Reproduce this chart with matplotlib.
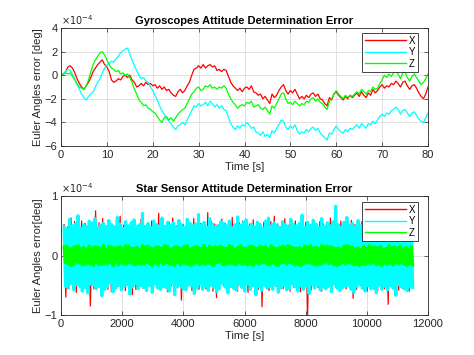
import numpy as np
import matplotlib
matplotlib.use("Agg")
import matplotlib.pyplot as plt

plt.rcParams['font.family'] = ['Liberation Sans', 'DejaVu Sans']

# ---------------- data (gyro, units of 1e-4 deg, sampled every 0.5 s) -------------
GYRO_T_END = 80
GYRO_STEP = 0.5
gyro_x = [0.0, 0.1, 0.3, 0.7, 0.8, 0.6, 0.2, -0.3, -0.7, -1.0,
          -1.2, -0.9, -0.6, -0.2, 0.3, 0.6, 0.9, 1.1, 1.3, 0.9,
          0.7, 0.3, -0.4, -0.6, -0.5, -0.3, -0.4, -0.1, 0.0, -0.2,
          0.0, -0.4, -0.6, -1.0, -0.9, -0.7, -0.9, -0.6, -0.8, -0.7,
          -0.9, -0.8, -1.1, -0.9, -1.2, -1.0, -1.3, -1.2, -1.5, -1.7,
          -1.8, -1.4, -1.2, -1.5, -1.3, -0.9, -0.6, 0.0, 0.5, 0.6,
          0.8, 0.6, 0.9, 0.6, 0.8, 0.9, 0.7, 0.8, 0.4, 0.5,
          0.3, 0.5, 0.4, -0.1, -0.6, -0.9, -1.1, -1.3, -1.1, -1.4,
          -1.1, -1.0, -1.2, -0.9, -1.4, -1.5, -1.7, -1.6, -2.0, -1.8,
          -2.1, -2.4, -1.6, -1.9, -1.7, -1.3, -1.0, -0.8, -1.3, -1.6,
          -1.3, -1.5, -1.2, -1.6, -2.0, -1.8, -2.0, -1.7, -1.9, -1.6,
          -1.5, -1.8, -1.6, -2.0, -2.1, -2.4, -2.6, -1.9, -2.1, -1.6,
          -1.4, -1.7, -1.9, -2.1, -1.8, -2.0, -1.7, -1.9, -1.7, -1.5,
          -1.8, -1.4, -1.7, -1.9, -1.5, -1.7, -1.2, -1.5, -1.3, -1.0,
          -0.8, -1.1, -0.9, -1.0, -0.7, -0.8, -0.5, -0.7, -1.0, -0.6,
          -0.5, -0.9, -1.2, -0.9, -0.8, -1.1, -1.5, -1.8, -2.0, -1.6,
          -1.0]
gyro_y = [0.0, 0.1, 0.3, 0.5, 0.4, 0.1, -0.3, -0.8, -1.2, -1.6,
          -1.9, -2.1, -1.8, -1.6, -1.4, -1.0, -0.6, -0.3, 0.2, 0.6,
          0.9, 1.0, 1.2, 1.1, 1.4, 1.6, 1.9, 2.1, 2.2, 2.3,
          1.8, 1.3, 0.8, 0.4, 0.0, -0.3, -0.2, -0.5, -0.6, -1.0,
          -1.3, -1.7, -2.1, -2.6, -3.0, -3.3, -3.6, -3.9, -4.1, -4.4,
          -4.6, -4.3, -4.2, -4.0, -4.2, -3.8, -3.4, -3.0, -2.6, -2.7,
          -2.4, -2.6, -2.5, -2.3, -2.6, -2.2, -2.4, -2.7, -2.5, -2.8,
          -2.6, -2.9, -3.0, -3.6, -4.1, -4.4, -4.6, -4.3, -4.5, -4.2,
          -4.3, -4.0, -4.2, -4.5, -4.4, -4.8, -4.9, -5.1, -4.8, -5.2,
          -5.0, -5.3, -4.7, -4.9, -4.5, -4.2, -3.8, -3.9, -4.4, -4.6,
          -4.3, -4.5, -4.2, -4.7, -5.0, -4.8, -4.9, -4.6, -4.8, -4.5,
          -4.4, -4.7, -4.5, -4.9, -5.1, -5.3, -5.5, -4.9, -5.0, -4.6,
          -4.3, -4.6, -4.8, -4.9, -4.6, -4.8, -4.5, -4.6, -4.4, -4.2,
          -4.5, -4.1, -4.3, -4.5, -4.1, -4.2, -3.9, -4.1, -3.8, -3.5,
          -3.3, -3.5, -3.2, -3.3, -3.0, -2.9, -2.7, -2.9, -3.3, -3.0,
          -2.9, -3.2, -3.5, -3.2, -3.1, -3.4, -3.7, -3.9, -4.0, -3.6,
          -3.2]
gyro_z = [0.0, 0.1, 0.2, 0.1, 0.2, -0.1, -0.4, -0.7, -1.0, -1.1,
          -1.2, -0.9, -0.4, 0.3, 0.9, 1.3, 1.6, 1.9, 2.0, 1.7,
          1.3, 0.9, 0.6, 0.5, 0.3, 0.4, 0.1, 0.2, 0.0, 0.1,
          -0.2, -0.6, -1.2, -1.6, -2.1, -2.3, -2.6, -2.5, -2.8, -2.9,
          -3.1, -3.2, -3.5, -3.8, -4.0, -3.6, -3.5, -3.8, -3.6, -3.9,
          -3.6, -3.3, -3.1, -2.9, -2.8, -2.4, -2.0, -1.6, -1.4, -1.1,
          -1.0, -1.3, -1.2, -0.9, -1.0, -0.8, -1.1, -1.0, -1.2, -1.0,
          -1.1, -0.9, -1.1, -1.6, -2.0, -2.3, -2.5, -2.8, -2.6, -2.5,
          -2.6, -2.3, -2.4, -2.2, -2.7, -2.6, -2.5, -2.8, -2.9, -2.7,
          -3.0, -3.3, -2.6, -2.8, -2.4, -2.0, -1.6, -1.5, -2.0, -2.4,
          -2.3, -2.5, -2.2, -2.4, -2.6, -2.4, -2.5, -2.2, -2.3, -2.0,
          -1.9, -2.2, -2.0, -2.3, -2.4, -2.7, -2.9, -2.2, -2.0, -1.6,
          -1.3, -1.6, -1.8, -2.0, -1.7, -1.9, -1.7, -1.8, -1.6, -1.4,
          -1.6, -1.2, -1.4, -1.6, -1.3, -1.4, -1.0, -1.2, -1.1, -0.7,
          -0.4, 0.0, -0.2, 0.1, -0.1, 0.2, 0.3, 0.1, -0.3, 0.2,
          0.3, -0.2, -0.5, -0.1, 0.1, -0.2, -0.5, -0.8, -0.6, -0.3,
          0.1]

# ---------------- data (star sensor, units of 1e-6 deg) -------------
STAR_T_START = 100
STAR_T_END = 11500
star_x = [52, -70, 48, -55, 63, -50, 57, -62, 50, -53,
          58, -49, 54, -60, 51, -85, 47, -56, 75, -52,
          55, -58, 62, -51, 49, -57, 53, -61, 50, -54,
          57, -52, 66, -55, 51, -59, 48, -53, 56, -66,
          53, -57, 50, -52, 61, -55, 49, -60, 54, -51,
          58, -56, 52, -50, 71, -58, 55, -53, 49, -61,
          56, -52, 63, -57, 50, -54, 59, -75, 52, -56,
          55, -51, 48, -59, 62, -53, 51, -57, 54, -52,
          50, -56, 72, -54, 57, -60, 53, -71, 49, -55,
          61, -52, 54, -58, 50, -53, 64, -57, 52, -60,
          55, -51, 58, -54, 49, -62, 53, -56, 60, -52,
          51, -57, 54, -86, 56, -53, 50, -59, 57, -55,
          66, -52, 53, -58, 49, -56, 62, -54, 51, -60,
          55, -53, 58, -57, 50, -61, 54, -52, 56, -102,
          52, -58, 60, -55, 51, -54, 57, -60, 53, -56,
          49, -53, 63, -57, 55, -52, 50, -59, 58, -54,
          54, -56, 51, -53, 59, -72, 52, -57, 55, -50,
          57, -55, 50, -60, 64, -52, 54, -57, 51, -59,
          53, -54, 58, -56, 50, -82, 55, -53, 60, -57,
          52, -58, 54, -55, 57, -51, 56, -60, 50, -54]
star_y = [48, -52, 45, -55, 61, -47, 50, -58, 53, -49,
          67, -51, 46, -60, 52, -54, 49, -63, 58, -48,
          55, -50, 62, -56, 47, -52, 51, -68, 54, -57,
          49, -53, 59, -46, 52, -61, 48, -55, 64, -50,
          53, -58, 46, -52, 57, -49, 50, -65, 55, -53,
          60, -47, 48, -56, 52, -51, 71, -54, 49, -59,
          54, -50, 47, -62, 58, -48, 52, -55, 50, -57,
          63, -52, 49, -54, 56, -60, 51, -47, 55, -66,
          48, -53, 59, -50, 52, -56, 47, -58, 61, -49,
          54, -51, 50, -64, 53, -55, 69, -48, 51, -57,
          56, -52, 48, -59, 62, -50, 53, -54, 49, -61,
          51, -56, 57, -47, 54, -53, 50, -63, 58, -52,
          47, -55, 52, -58, 65, -49, 51, -54, 55, -60,
          60, -48, 49, -57, 53, -51, 48, -66, 56, -53,
          52, -59, 46, -50, 58, -55, 63, -52, 50, -57,
          55, -49, 51, -62, 47, -54, 57, -50, 53, -58,
          49, -56, 61, -48, 52, -53, 50, -60, 54, -51,
          68, -57, 48, -52, 56, -64, 51, -49, 59, -55,
          53, -50, 47, -58, 62, -53, 49, -56, 55, -51,
          50, -61, 57, -48, 83, -55, 52, -59, 48, -54,
          56, -52, 64, -50, 51, -57, 54, -62, 49, -53,
          59, -48, 50, -55, 53, -60, 76, -51, 57, -56,
          47, -54, 52, -63, 55, -50, 49, -57, 60, -52,
          54, -58, 48, -51, 58, -55, 51, -67, 53, -49,
          62, -53, 50, -56, 47, -59, 55, -52, 51, -54]
star_z = [14, -12, 16, -15, 11, -17, 13, -14, 15, -11,
          17, -13, 12, -16, 14, -15, 11, -13, 16, -14,
          13, -17, 15, -12, 14, -16, 12, -15, 17, -13,
          11, -14, 16, -12, 15, -17, 13, -11, 14, -16,
          15, -13, 12, -15, 17, -14, 16, -12, 13, -15,
          12, -16, 14, -13, 11, -15, 17, -14, 15, -12,
          16, -14, 13, -17, 12, -13, 15, -16, 14, -11,
          13, -15, 17, -12, 16, -14, 11, -15, 13, -17,
          15, -12, 14, -16, 12, -13, 16, -14, 17, -15,
          11, -17, 13, -14, 15, -12, 14, -16, 12, -13,
          17, -15, 12, -13, 16, -14, 13, -17, 15, -12,
          14, -11, 16, -15, 13, -16, 12, -14, 17, -13,
          15, -14, 11, -16, 14, -12, 17, -15, 13, -14,
          12, -16, 15, -13, 16, -17, 14, -11, 12, -15,
          16, -13, 14, -12, 15, -14, 11, -16, 17, -13,
          13, -15, 12, -17, 14, -13, 16, -12, 15, -14,
          17, -12, 15, -14, 13, -16, 12, -15, 14, -17,
          11, -14, 16, -13, 15, -12, 17, -14, 13, -16,
          14, -16, 12, -15, 17, -13, 15, -11, 16, -14,
          15, -13, 14, -16, 12, -17, 13, -15, 11, -12,
          16, -14, 17, -12, 15, -13, 14, -16, 12, -15,
          13, -17, 11, -14, 16, -15, 12, -13, 17, -14,
          14, -12, 15, -16, 13, -14, 16, -17, 11, -13,
          12, -15, 17, -13, 14, -16, 15, -12, 13, -14,
          16, -13, 12, -15, 14, -17, 11, -14, 15, -16]
STAR_UNIT_TO_1E4 = 0.01  # 1e-6 -> 1e-4

series_labels = ['X', 'Y', 'Z']
series_colors = ['#ff0000', '#00ffff', '#00ff00']

gyro_yticks = [-6, -4, -2, 0, 2, 4]
gyro_xticks = [0, 10, 20, 30, 40, 50, 60, 70, 80]
star_yticks = [-1, 0, 1]
star_xticks = [0, 2000, 4000, 6000, 8000, 10000, 12000]

# ---------------- figure -------------
W, H = 474, 355
fig = plt.figure(figsize=(W / 100, H / 100), dpi=100)
fig.patch.set_facecolor('white')

AX_COL = '#262626'
FS = 8
AX_LEFT, AX_RIGHT = 61, 428
YLABEL_X = (43 - AX_LEFT) / (AX_RIGHT - AX_LEFT)


def px_axes(left, top, right, bottom):
    return fig.add_axes([left / W, 1 - bottom / H, (right - left) / W, (bottom - top) / H])


def style(ax):
    ax.grid(True, color='#dcdcdc', linewidth=0.6)
    ax.set_axisbelow(True)
    for s in ax.spines.values():
        s.set_color(AX_COL)
        s.set_linewidth(0.6)
    ax.tick_params(direction='in', length=3, width=0.5, colors=AX_COL,
                   labelsize=FS, top=True, right=True, pad=3)
    ax.tick_params(axis='y', pad=2.5)


def legend(ax, anchor):
    leg = ax.legend(loc='upper right', bbox_to_anchor=anchor, fontsize=FS - 1,
                    frameon=True, fancybox=False, edgecolor=AX_COL, handlelength=4.2,
                    borderpad=0.3, labelspacing=0.15, handletextpad=0.3, borderaxespad=0,
                    framealpha=1)
    leg.get_frame().set_linewidth(0.6)
    for l in leg.get_lines():
        l.set_linewidth(1.0)
    return leg


ax1 = px_axes(AX_LEFT, 28, AX_RIGHT, 146)
t1 = np.arange(0, GYRO_T_END + GYRO_STEP / 2, GYRO_STEP)
for vals, lab, col in zip([gyro_x, gyro_y, gyro_z], series_labels, series_colors):
    ax1.plot(t1, vals, color=col, linewidth=0.9, label=lab)
ax1.set_xlim(0, 80)
ax1.set_ylim(-6, 4)
ax1.set_xticks(gyro_xticks)
ax1.set_yticks(gyro_yticks)
style(ax1)
ax1.set_title('Gyroscopes Attitude Determination Error', fontsize=FS, fontweight='bold', pad=3)
ax1.set_xlabel('Time [s]', fontsize=FS, labelpad=1, color=AX_COL)
ax1.set_ylabel('Euler Angles error [deg]', fontsize=FS, color=AX_COL)
ax1.yaxis.set_label_coords(YLABEL_X, 0.5)
ax1.text(0.0, 1.01, r'$\times10^{-4}$', transform=ax1.transAxes, fontsize=FS - 1,
         color=AX_COL, ha='left', va='bottom')
legend(ax1, (0.973, 0.958))

ax2 = px_axes(AX_LEFT, 196, AX_RIGHT, 315)
tx = np.linspace(STAR_T_START, STAR_T_END, len(star_x))
ty = np.linspace(STAR_T_START, STAR_T_END, len(star_y))
tz = np.linspace(STAR_T_START, STAR_T_END, len(star_z))
ax2.plot(tx, np.array(star_x) * STAR_UNIT_TO_1E4, color=series_colors[0], linewidth=0.9, label='X')
ax2.plot(ty, np.array(star_y) * STAR_UNIT_TO_1E4, color=series_colors[1], linewidth=2.2, label='Y')
ax2.plot(tz, np.array(star_z) * STAR_UNIT_TO_1E4, color=series_colors[2], linewidth=2.2, label='Z')
ax2.set_xlim(0, 12000)
ax2.set_ylim(-1, 1)
ax2.set_xticks(star_xticks)
ax2.set_yticks(star_yticks)
style(ax2)
ax2.set_title('Star Sensor Attitude Determination Error', fontsize=FS, fontweight='bold', pad=3)
ax2.set_xlabel('Time [s]', fontsize=FS, labelpad=1, color=AX_COL)
ax2.set_ylabel('Euler Angles error[deg]', fontsize=FS, color=AX_COL)
ax2.yaxis.set_label_coords(YLABEL_X, 0.5)
ax2.text(0.0, 1.01, r'$\times10^{-4}$', transform=ax2.transAxes, fontsize=FS - 1,
         color=AX_COL, ha='left', va='bottom')
legend(ax2, (0.973, 0.95))

fig.savefig('out.png', dpi=100, facecolor='white')
